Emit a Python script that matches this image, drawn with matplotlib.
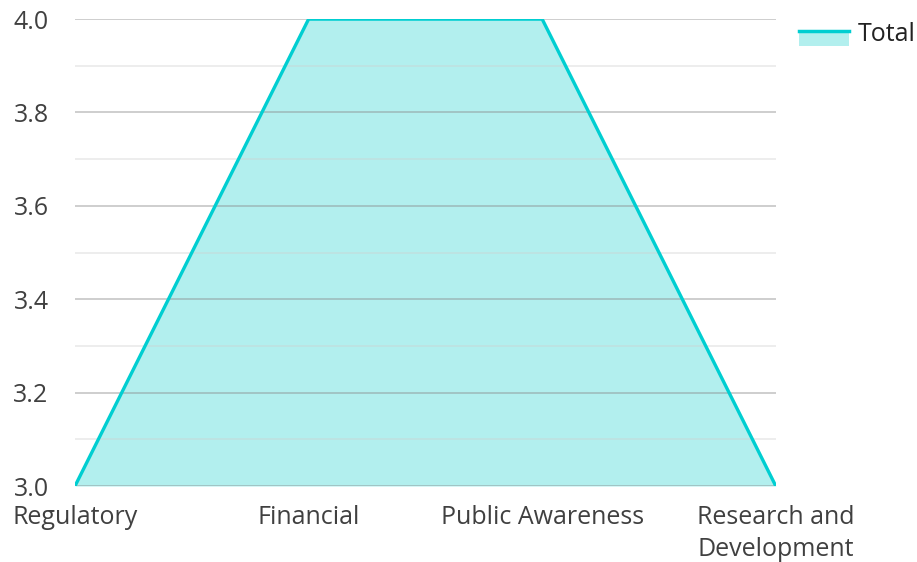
import matplotlib.pyplot as plt
from matplotlib.legend_handler import HandlerBase
from matplotlib.patches import Rectangle
from matplotlib.lines import Line2D

categories = ['Regulatory', 'Financial', 'Public Awareness', 'Research and\nDevelopment']
total = [3.0, 4.0, 4.0, 3.0]
y_ticks = [3.0, 3.2, 3.4, 3.6, 3.8, 4.0]

line_col = '#00CED1'
fill_col = '#B2EFEE'

plt.rcParams['font.family'] = ['Open Sans', 'DejaVu Sans']


# legend handle: line sitting on top of a filled box
class AreaHandler(HandlerBase):
    def create_artists(self, legend, orig, xd, yd, w, h, fontsize, trans):
        r = Rectangle((-xd, -yd - 0.3 * h), w, h * 0.9, facecolor=fill_col,
                      edgecolor='none', transform=trans)
        l = Line2D([-xd, -xd + w], [-yd + 0.55 * h, -yd + 0.55 * h],
                   color=line_col, lw=2.5, transform=trans)
        return [r, l]


fig = plt.figure(figsize=(9.17, 5.62), dpi=100)
ax = fig.add_axes([0.0818, 0.1352, 0.846 - 0.0818, 0.966 - 0.1352])

x = range(len(categories))
ax.fill_between(x, total, 3.0, color=fill_col, lw=0, zorder=1)
ln, = ax.plot(x, total, color=line_col, lw=2.4, zorder=3, solid_joinstyle='miter')

ax.set_xlim(0, len(categories) - 1)
ax.set_ylim(3.0, 4.0)
ax.set_yticks(y_ticks)
ax.set_yticklabels([f'{v:.1f}' for v in y_ticks])
ax.set_yticks([3.1, 3.3, 3.5, 3.7, 3.9], minor=True)
ax.set_xticks(list(x))
ax.set_xticklabels(categories, ma='left', linespacing=1.4)

ax.grid(axis='y', which='major', color='#8a8a8a', alpha=0.45, lw=1.3, zorder=2)
ax.grid(axis='y', which='minor', color='#cfcfcf', alpha=0.4, lw=1.3, zorder=2)
ax.set_axisbelow(False)
for s in ax.spines.values():
    s.set_visible(False)
ax.tick_params(axis='both', which='both', length=0, labelsize=18, labelcolor='#404040')
ax.tick_params(axis='y', pad=19)
ax.tick_params(axis='x', pad=13.5)

ax.legend([ln], ['Total'], handler_map={ln: AreaHandler()}, loc='upper right',
          bbox_to_anchor=(916 / 917, 0.961), bbox_transform=fig.transFigure,
          frameon=False, fontsize=18, borderpad=0, borderaxespad=0,
          handlelength=2.0, handletextpad=0.36, labelcolor='#222222')

fig.savefig('out.png', dpi=100)
